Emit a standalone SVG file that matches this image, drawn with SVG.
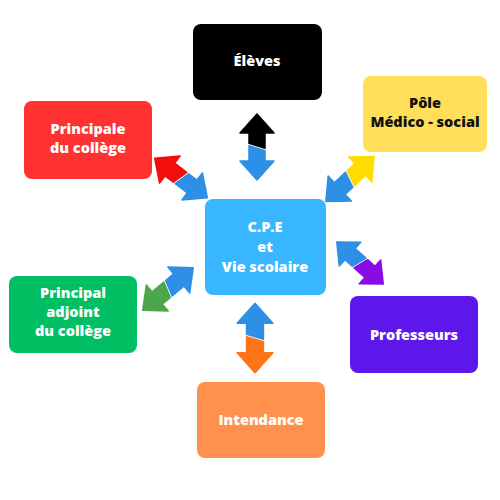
<svg xmlns="http://www.w3.org/2000/svg" xmlns:xlink="http://www.w3.org/1999/xlink" width="500" height="500" viewBox="0 0 500 500">
<style>
.box{stroke:none}
.t{font-family:"Open Sans","Liberation Sans",sans-serif;font-weight:800;font-size:14.5px;text-anchor:middle;fill:#ffffff}
.dark{fill:#111111}
.arr use{stroke-linejoin:round;stroke-width:1.5}
</style>
<defs>
<path id="out" d="M0,-33 L17,-14 L8,-14 L8,1.2 L-8,-3.6 L-8,-14 L-17,-14 Z"/>
<path id="in" d="M-8,-1.2 L8,3.6 L8,14 L17,14 L0,33 L-17,14 L-8,14 Z"/>
</defs>
<rect width="500" height="500" fill="#ffffff"/>
<g id="connectors" class="arr">
<g transform="translate(257,147)"><use href="#out" fill="#000000" stroke="#000000"/><use href="#in" fill="#2D8FE6" stroke="#2D8FE6"/></g>
<g transform="translate(181,178) rotate(-53)"><use href="#out" fill="#F40D0D" stroke="#F40D0D"/><use href="#in" fill="#2D8FE6" stroke="#2D8FE6"/></g>
<g transform="translate(350,179) rotate(47)"><use href="#out" fill="#FFDD00" stroke="#FFDD00"/><use href="#in" fill="#2D8FE6" stroke="#2D8FE6"/></g>
<g transform="translate(168,289) rotate(-130)"><use href="#out" fill="#4EA64A" stroke="#4EA64A"/><use href="#in" fill="#2D8FE6" stroke="#2D8FE6"/></g>
<g transform="translate(360,263) rotate(132) scale(0.95)"><use href="#out" fill="#8A0BE6" stroke="#8A0BE6"/><use href="#in" fill="#2D8FE6" stroke="#2D8FE6"/></g>
<g transform="translate(255,338) rotate(180) scale(1.05)"><use href="#out" fill="#FF7418" stroke="#FF7418"/><use href="#in" fill="#2D8FE6" stroke="#2D8FE6"/></g>
</g>
<g id="eleves"><rect class="box" x="193" y="24" width="129" height="76" rx="8" fill="#000000"/><text class="t" x="257" y="66">Élèves</text></g>
<g id="pole"><rect class="box" x="363" y="76" width="124" height="76" rx="8" fill="#FFDE59"/><text class="t dark" x="425" y="108">Pôle</text><text class="t dark" x="425" y="127">Médico - social</text></g>
<g id="principale"><rect class="box" x="24" y="101" width="128" height="78" rx="8" fill="#FF3131"/><text class="t" x="88" y="134">Principale</text><text class="t" x="88" y="153">du collège</text></g>
<g id="cpe"><rect class="box" x="205" y="199" width="121" height="96" rx="8" fill="#38B6FF"/><text class="t" x="265" y="232">C.P.E</text><text class="t" x="265" y="252">et</text><text class="t" x="265" y="272">Vie scolaire</text></g>
<g id="adjoint"><rect class="box" x="9" y="276" width="128" height="77" rx="8" fill="#00BF63"/><text class="t" x="73" y="298">Principal</text><text class="t" x="73" y="317">adjoint</text><text class="t" x="73" y="336">du collège</text></g>
<g id="professeurs"><rect class="box" x="350" y="296" width="128" height="77" rx="8" fill="#5E17EB"/><text class="t" x="414" y="340">Professeurs</text></g>
<g id="intendance"><rect class="box" x="197" y="382" width="128" height="76" rx="8" fill="#FF914D"/><text class="t" x="261" y="425">Intendance</text></g>
</svg>
